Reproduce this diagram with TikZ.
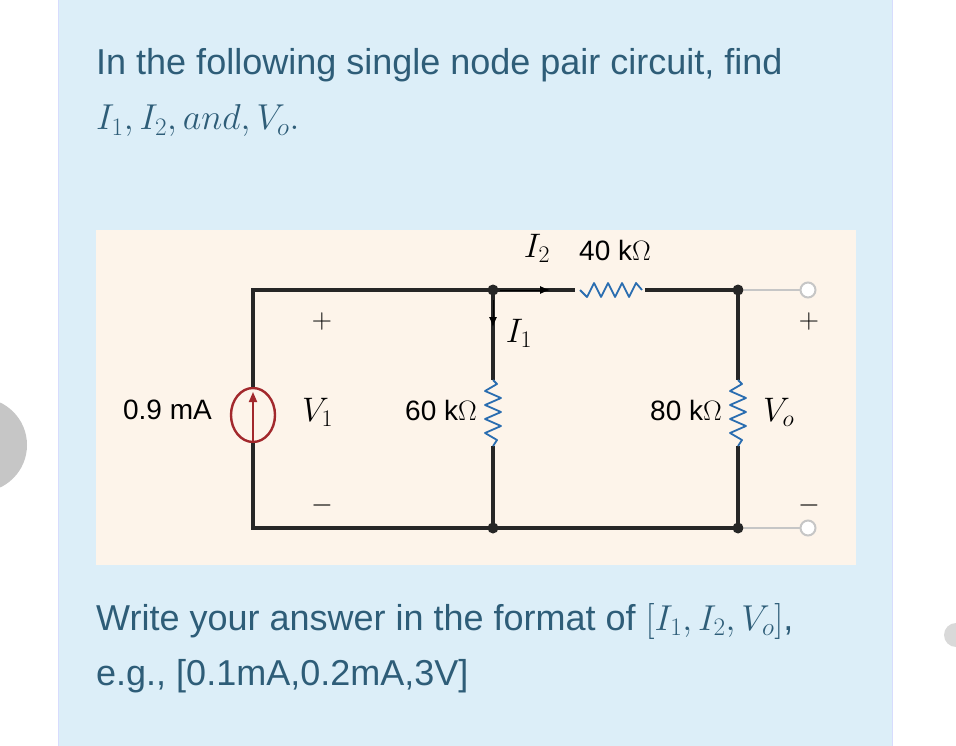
\RequirePackage{fix-cm}
\documentclass[tikz,border=0pt]{standalone}
\usepackage{fontspec}
\setmainfont{Liberation Sans}
\usepackage{amsmath}
\usetikzlibrary{shapes.geometric,arrows.meta}
\begin{document}
\begin{tikzpicture}[x=1pt,y=-1pt,
  txt/.style={text=tc,anchor=base west,inner sep=0,font=\fontsize{36}{42}\selectfont},
  wire/.style={line width=3.4pt,draw=black!85},
  res/.style={draw=resb,line width=1.8pt,line join=round},
  dot/.style={circle,fill=black!85,inner sep=0,minimum size=11pt},
  term/.style={circle,draw=gray!45,line width=2pt,fill=white,inner sep=0,minimum size=15pt},
  lab/.style={inner sep=0,font=\fontsize{28}{32}\selectfont},
  mlab/.style={inner sep=0,font=\fontsize{34}{38}\selectfont}]
\definecolor{tc}{HTML}{2E5D78}
\definecolor{panel}{HTML}{DCEEF8}
\definecolor{cream}{HTML}{FDF4EA}
\definecolor{resb}{HTML}{2A6DB0}
\definecolor{src}{HTML}{A2282C}
\useasboundingbox (0,0) rectangle (956,746);
\fill[white] (0,0) rectangle (956,746);
\fill[panel] (58,0) rectangle (892,746);
\draw[panel!70!blue!40,line width=1pt] (58,0) -- (58,746) (892,0) -- (892,746);
\fill[gray!45] (-20,445) circle (47);
\fill[gray!30] (956,635) circle (12);
\node[txt] (t1) at (96,75) {In the following single node pair circuit, find};
\node[txt] (t2) at (96,130) {$I_1, I_2, and, V_o.$};
\node[txt] (t3) at (96,630) {Write your answer in the format of $[I_1, I_2, V_o]$,};
\node[txt] (t4) at (96,685) {e.g., [0.1mA,0.2mA,3V]};
\fill[cream] (96,230) rectangle (856,565);
% nodes
\coordinate (tl) at (253,290); \coordinate (bl) at (253,528);
\coordinate (tm) at (493,290); \coordinate (bm) at (493,528);
\coordinate (tr) at (738,290); \coordinate (br) at (738,528);
\node[draw=src,line width=2.4pt,ellipse,minimum width=44pt,minimum height=54pt,inner sep=0] (s) at (253,415) {};
% wires
\draw[wire] (s.north) -- (tl) -- (tm) -- (575,290);
\draw[wire] (645,290) -- (tr) -- (738,380);
\draw[wire] (738,446) -- (br) -- (bm) -- (bl) -- (s.south);
\draw[wire] (tm) -- (493,380); \draw[wire] (493,446) -- (bm);
\draw[-{Latex[length=10pt,width=8pt]},black,line width=1pt] (493,300) -- (493,327);
\draw[-{Latex[length=10pt,width=8pt]},black,line width=1pt] (500,290) -- (550,290);
\foreach \p in {tm,bm,tr,br} \node[dot] (d\p) at (\p) {};
% resistors
\draw[res] (493,380) -- (497,384) -- (485,391) -- (501,398) -- (485,405) -- (501,412) -- (485,419) -- (501,426) -- (485,433) -- (497,440) -- (493,446);
\draw[res] (738,380) -- (742,384) -- (730,391) -- (746,398) -- (730,405) -- (746,412) -- (730,419) -- (746,426) -- (730,433) -- (742,440) -- (738,446);
\draw[res] (580,290) -- (587,297) -- (594,283) -- (601,297) -- (608,283) -- (615,297) -- (622,283) -- (629,297) -- (636,283) -- (642,290);
\draw[src,line width=1.8pt,-{Triangle[length=10pt,width=8pt]}] (s.south) -- (253,392);
% terminals
\node[term] (ta) at (808,290) {}; \node[term] (tb) at (808,528) {};
\draw[gray!45,line width=2.5pt] (dtr) -- (ta.west); \draw[gray!45,line width=2.5pt] (dbr) -- (tb.west);
% labels
\node[lab,anchor=east] (l09) at (212,410) {0.9 mA};
\node[mlab,anchor=west] (lv1) at (302,412) {$V_1$};
\node[lab,anchor=east] (l60) at (477,410) {60 k$\Omega$};
\node[lab,anchor=east] (l80) at (722,410) {80 k$\Omega$};
\node[mlab,anchor=west] (lvo) at (763,412) {$V_o$};
\node[lab] (l40) at (615,250) {40 k$\Omega$};
\node[mlab] (li2) at (537,248) {$I_2$};
\node[mlab] (li1) at (519,333) {$I_1$};
\node[lab] (p1) at (322,322) {$+$};
\node[lab] (m1) at (322,505) {$-$};
\node[lab] (p2) at (809,322) {$+$};
\node[lab] (m2) at (809,505) {$-$};
\end{tikzpicture}
\end{document}
